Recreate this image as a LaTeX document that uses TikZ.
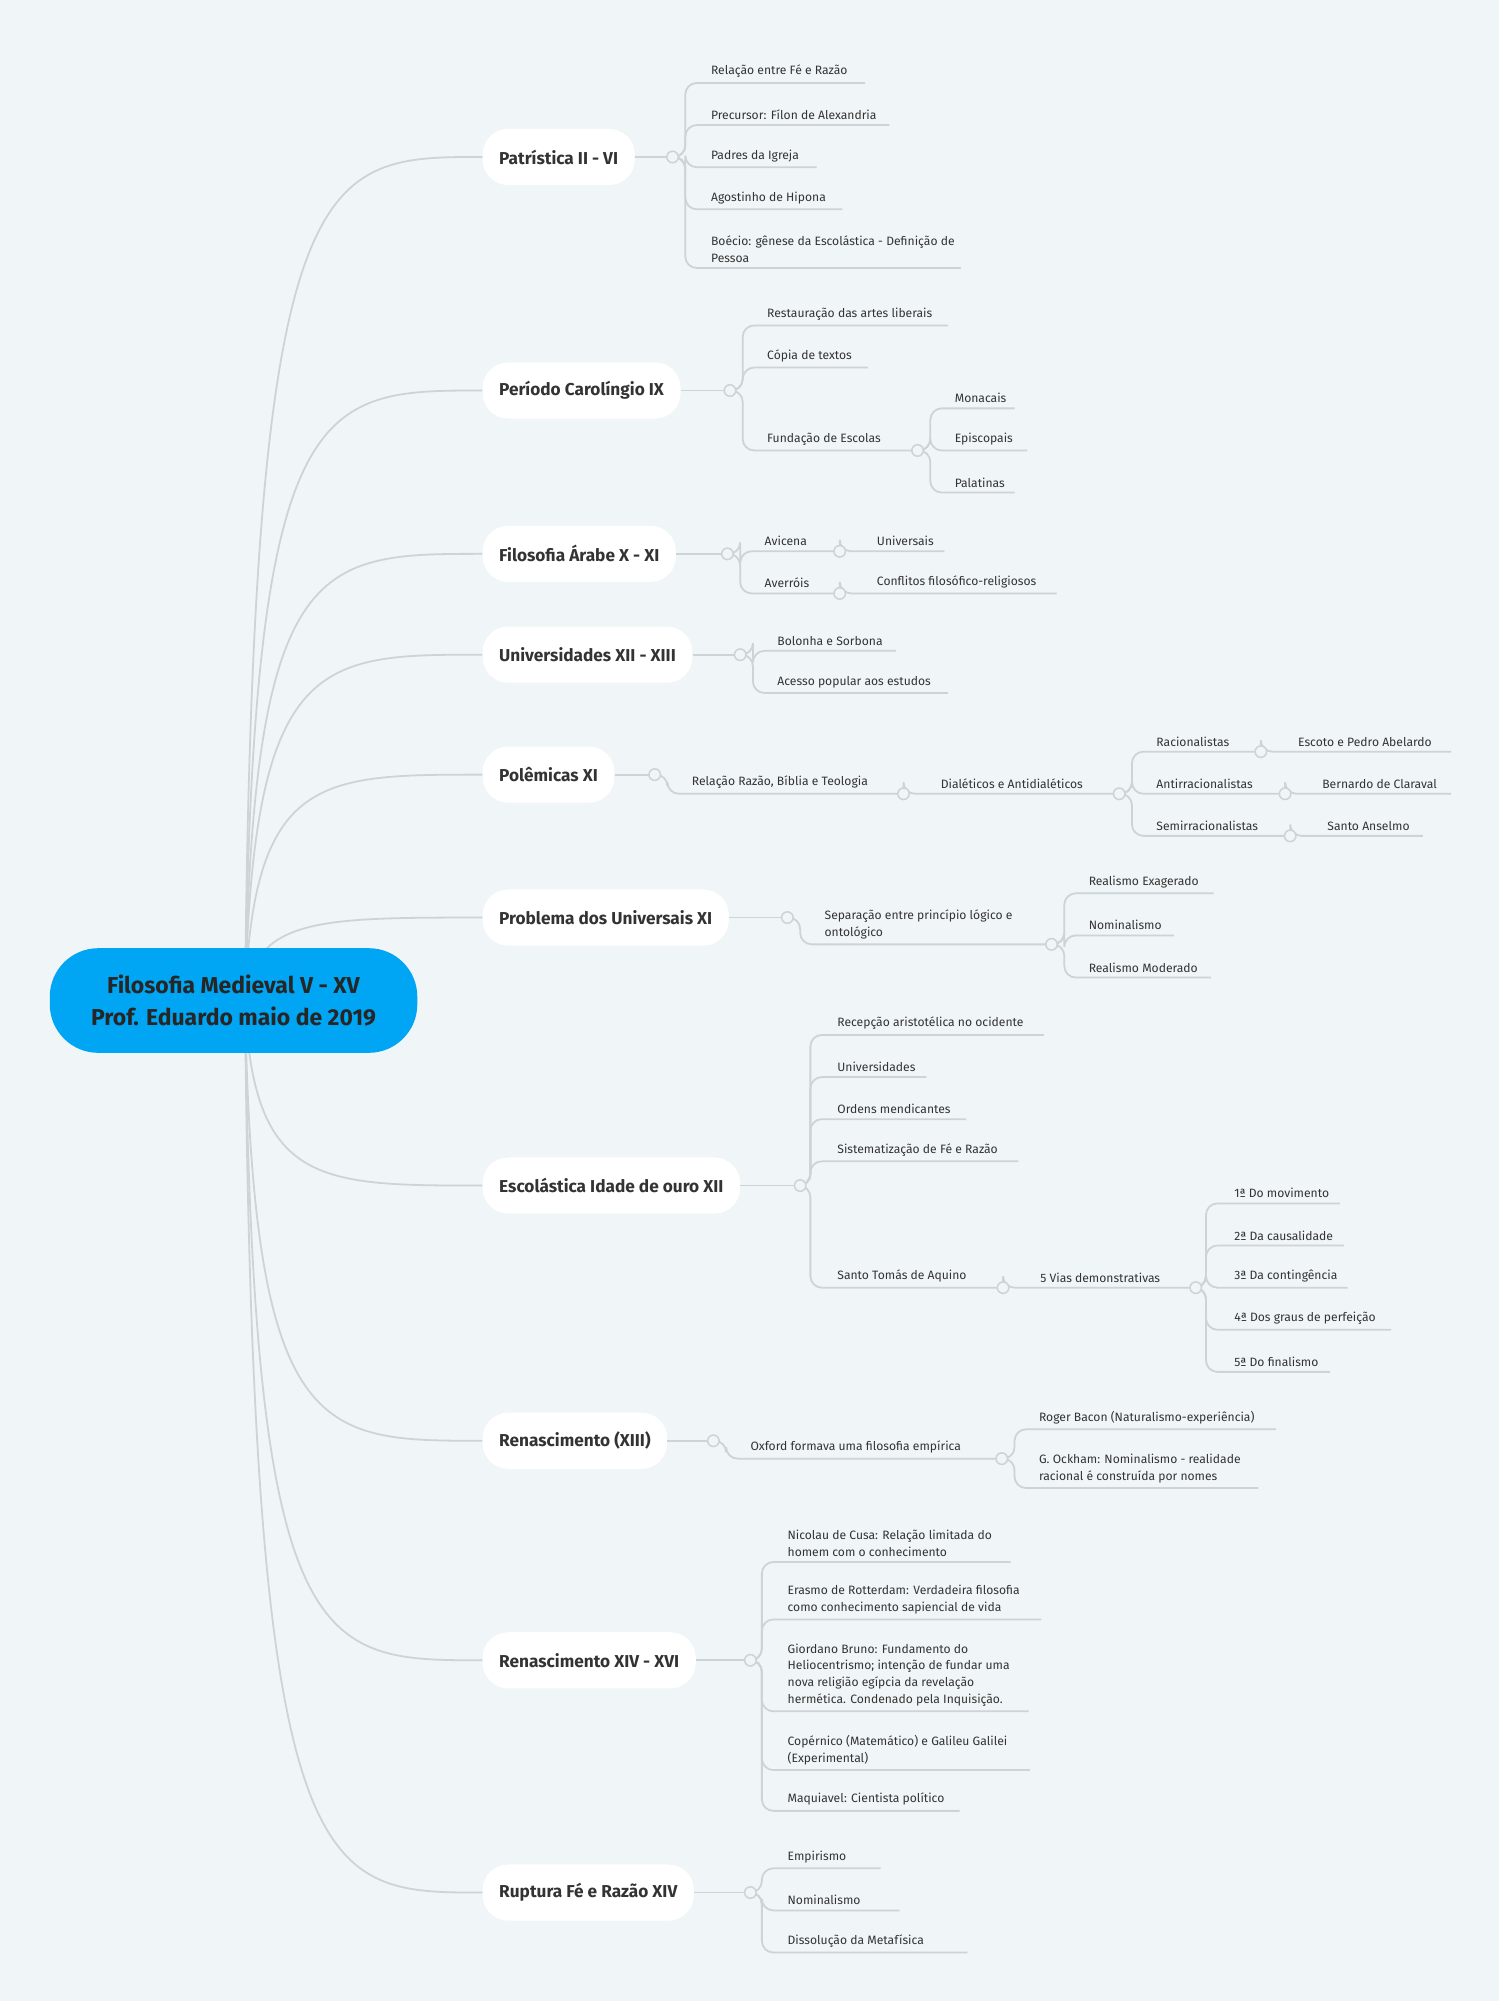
\documentclass[tikz,border=0pt]{standalone}
\usepackage{fontspec}
\setmainfont{Fira Sans}
\definecolor{bg}{HTML}{F0F5F7}
\definecolor{ln}{HTML}{CDD3D7}
\definecolor{tx}{HTML}{333333}
\definecolor{rootc}{HTML}{00A6F4}
\tikzset{
 conn/.style={draw=ln,line width=1.4pt},
 leaf/.style={inner sep=0pt,text=tx,font=\fontsize{9.5}{13}\selectfont,align=left},
 br/.style={fill=white,rounded corners=20pt,minimum height=44pt,inner xsep=13pt,anchor=west,text=tx,font=\fontsize{13.5}{16}\selectfont\bfseries},
 dot/.style={circle,draw=ln,fill=bg,line width=1.2pt,minimum size=9pt,inner sep=0pt},
}
\newcommand\lf[7]{\draw[conn,rounded corners=9pt] (#2) -| (#3,#5) -- (#6,#5); \node[leaf,anchor=south west] (#1) at (#4,#5-4) {#7};}
\begin{document}
\begin{tikzpicture}[x=1pt,y=-1pt]
\fill[bg] (0,0) rectangle (1175,1568);
\useasboundingbox (0,0) rectangle (1175,1568);
\coordinate (rc) at (192,785);
% branches
\node[br] (bP) at (378,123) {Patrística II - VI};
\node[br] (bC) at (378,306) {Período Carolíngio IX};
\node[br] (bA) at (378,434) {Filosofia Árabe X - XI};
\node[br] (bU) at (378,513) {Universidades XII - XIII};
\node[br] (bPo) at (378,607) {Polêmicas XI};
\node[br] (bPr) at (378,719) {Problema dos Universais XI};
\node[br] (bE) at (378,929) {Escolástica Idade de ouro XII};
\node[br] (bR1) at (378,1129) {Renascimento (XIII)};
\node[br] (bR2) at (378,1301) {Renascimento XIV - XVI};
\node[br] (bRu) at (378,1483) {Ruptura Fé e Razão XIV};
\foreach \n/\y in {bP/123,bC/306,bA/434,bU/513,bPo/607,bPr/719,bE/929,bR1/1129,bR2/1301,bRu/1483}
 \draw[conn] (rc) .. controls (198,\y) and (250,\y) .. (\n.west);
% dot coordinates
\coordinate (cP) at (527,123);
\coordinate (cC) at (572,306);
\coordinate (cF) at (719,353);
\coordinate (cA) at (570,434);
\coordinate (cAv) at (658,432);
\coordinate (cAr) at (658,465);
\coordinate (cU) at (580,513);
\coordinate (cPo) at (513,607);
\coordinate (cRel) at (708,622);
\coordinate (cDi) at (877,622);
\coordinate (cRa) at (988,589);
\coordinate (cAn) at (1007,622);
\coordinate (cSe) at (1011,655);
\coordinate (cPr) at (617,719);
\coordinate (cSep) at (824,740);
\coordinate (cE) at (627,929);
\coordinate (cST) at (786,1009);
\coordinate (cV) at (937,1009);
\coordinate (cR1) at (559,1129);
\coordinate (cOx) at (785,1143);
\coordinate (cR2) at (588,1301);
\coordinate (cRu) at (588,1483);
\foreach \b/\c in {bP/cP,bC/cC,bA/cA,bU/cU,bPo/cPo,bPr/cPr,bE/cE,bR1/cR1,bR2/cR2,bRu/cRu}
 \draw[conn] (\b.east) -- (\c);
% Patristica
\lf{l1}{cP}{537}{557}{65}{678}{Relação entre Fé e Razão}
\lf{l2}{cP}{537}{557}{98}{697}{Precursor: Fílon de Alexandria}
\lf{l3}{cP}{537}{557}{131}{640}{Padres da Igreja}
\lf{l4}{cP}{537}{557}{164}{660}{Agostinho de Hipona}
\lf{l5}{cP}{537}{557}{210}{753}{\parbox{195pt}{\raggedright Boécio: gênese da Escolástica - Definição de Pessoa}}
% Carolingio
\lf{l6}{cC}{582}{601}{255}{743}{Restauração das artes liberais}
\lf{l7}{cC}{582}{601}{288}{680}{Cópia de textos}
\lf{l8}{cC}{582}{601}{353}{719}{Fundação de Escolas}
\lf{l9}{cF}{729}{748}{320}{795}{Monacais}
\lf{l10}{cF}{729}{748}{353}{805}{Episcopais}
\lf{l11}{cF}{729}{748}{386}{795}{Palatinas}
% Arabe
\lf{l12}{cA}{580}{599}{432}{658}{Avicena}
\lf{l13}{cA}{580}{599}{465}{658}{Averróis}
\lf{l14}{cAv}{658}{687}{432}{740}{Universais}
\lf{l15}{cAr}{658}{687}{465}{828}{Conflitos filosófico-religiosos}
% Universidades
\lf{l16}{cU}{590}{609}{510}{702}{Bolonha e Sorbona}
\lf{l17}{cU}{590}{609}{543}{743}{Acesso popular aos estudos}
% Polemicas
\lf{l18}{cPo}{523}{542}{622}{708}{Relação Razão, Bíblia e Teologia}
\lf{l19}{cRel}{708}{737}{622}{877}{Dialéticos e Antidialéticos}
\lf{l20}{cDi}{887}{906}{589}{988}{Racionalistas}
\lf{l21}{cDi}{887}{906}{622}{1007}{Antirracionalistas}
\lf{l22}{cDi}{887}{906}{655}{1011}{Semirracionalistas}
\lf{l23}{cRa}{988}{1017}{589}{1137}{Escoto e Pedro Abelardo}
\lf{l24}{cAn}{1007}{1036}{622}{1137}{Bernardo de Claraval}
\lf{l25}{cSe}{1011}{1040}{655}{1115}{Santo Anselmo}
% Problema
\lf{l26}{cPr}{627}{646}{740}{824}{\parbox{170pt}{\raggedright Separação entre princípio lógico e ontológico}}
\lf{l27}{cSep}{834}{853}{700}{951}{Realismo Exagerado}
\lf{l28}{cSep}{834}{853}{733}{920}{Nominalismo}
\lf{l29}{cSep}{834}{853}{766}{949}{Realismo Moderado}
% Escolastica
\lf{l30}{cE}{635}{656}{811}{818}{Recepção aristotélica no ocidente}
\lf{l31}{cE}{635}{656}{844}{726}{Universidades}
\lf{l32}{cE}{635}{656}{877}{757}{Ordens mendicantes}
\lf{l33}{cE}{635}{656}{910}{798}{Sistematização de Fé e Razão}
\lf{l34}{cE}{635}{656}{1009}{786}{Santo Tomás de Aquino}
\lf{l35}{cST}{786}{815}{1009}{937}{5 Vias demonstrativas}
\lf{l36}{cV}{945}{967}{943}{1050}{1ª Do movimento}
\lf{l37}{cV}{945}{967}{976}{1053}{2ª Da causalidade}
\lf{l38}{cV}{945}{967}{1009}{1056}{3ª Da contingência}
\lf{l39}{cV}{945}{967}{1042}{1090}{4ª Dos graus de perfeição}
\lf{l40}{cV}{945}{967}{1075}{1042}{5ª Do finalismo}
% Renascimento XIII
\lf{l41}{cR1}{569}{588}{1143}{785}{Oxford formava uma filosofia empírica}
\lf{l42}{cOx}{795}{814}{1120}{1000}{Roger Bacon (Naturalismo-experiência)}
\lf{l43}{cOx}{795}{814}{1166}{986}{\parbox{175pt}{\raggedright G. Ockham: Nominalismo - realidade racional é construída por nomes}}
% Renascimento XIV-XVI
\lf{l44}{cR2}{597}{617}{1224}{792}{\parbox{175pt}{\raggedright Nicolau de Cusa: Relação limitada do homem com o conhecimento}}
\lf{l45}{cR2}{597}{617}{1269}{816}{\parbox{195pt}{\raggedright Erasmo de Rotterdam: Verdadeira filosofia como conhecimento sapiencial de vida}}
\lf{l46}{cR2}{597}{617}{1341}{806}{\parbox{187pt}{\raggedright Giordano Bruno: Fundamento do Heliocentrismo; intenção de fundar uma nova religião egípcia da revelação hermética. Condenado pela Inquisição.}}
\lf{l47}{cR2}{597}{617}{1387}{807}{\parbox{187pt}{\raggedright Copérnico (Matemático) e Galileu Galilei (Experimental)}}
\lf{l48}{cR2}{597}{617}{1419}{752}{Maquiavel: Cientista político}
% Ruptura
\lf{l49}{cRu}{597}{617}{1464}{690}{Empirismo}
\lf{l50}{cRu}{597}{617}{1497}{705}{Nominalismo}
\lf{l51}{cRu}{597}{617}{1530}{758}{Dissolução da Metafísica}
% dots
\foreach \c in {cP,cC,cF,cA,cAv,cAr,cU,cPo,cRel,cDi,cRa,cAn,cSe,cPr,cSep,cE,cST,cV,cR1,cOx,cR2,cRu}
 \node[dot] (d\c) at (\c) {};
% root
\node[fill=rootc,rounded corners=38pt,minimum width=288pt,minimum height=82pt,align=center,text=black!85,font=\fontsize{18}{25}\selectfont\bfseries] (root) at (183,784) {Filosofia Medieval V - XV\\Prof. Eduardo maio de 2019};
\end{tikzpicture}
\end{document}
